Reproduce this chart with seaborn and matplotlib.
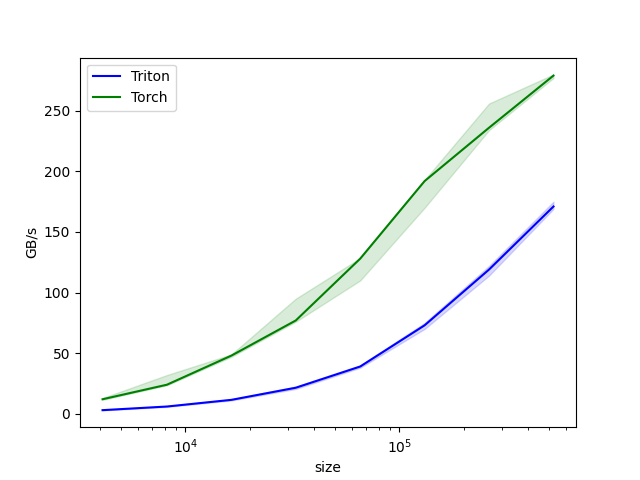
import matplotlib
matplotlib.use("Agg")
import matplotlib.pyplot as plt
import seaborn as sns
import pandas as pd

sizes = [4096, 8192, 16384, 32768, 65536, 131072, 262144, 524288]
triton = [3.0, 6.0, 11.5, 21.5, 39.0, 73.0, 119.0, 171.0]
triton_lo = [2.8, 5.7, 11.0, 20.5, 38.0, 70.0, 114.0, 169.0]
triton_hi = [3.2, 6.3, 12.0, 22.5, 40.0, 75.0, 122.0, 175.0]
torch = [12.0, 24.0, 48.0, 77.0, 128.0, 192.0, 236.0, 279.0]
torch_lo = [11.5, 23.5, 47.0, 76.0, 110.0, 170.0, 234.0, 277.0]
torch_hi = [13.0, 32.0, 49.0, 95.0, 128.5, 193.0, 256.0, 280.0]

df = pd.DataFrame({"size": sizes * 2, "GB/s": triton + torch,
                   "provider": ["Triton"] * 8 + ["Torch"] * 8})

fig, ax = plt.subplots(figsize=(6.4, 4.8), dpi=100)
sns.lineplot(data=df, x="size", y="GB/s", hue="provider",
             palette={"Triton": "blue", "Torch": "green"}, ax=ax)
ax.fill_between(sizes, triton_lo, triton_hi, color="blue", alpha=0.15)
ax.fill_between(sizes, torch_lo, torch_hi, color="green", alpha=0.15)
ax.set_xscale("log")
ax.legend(title=None, loc="upper left")
ax.set_xlabel("size")
ax.set_ylabel("GB/s")
fig.savefig("out.png")
